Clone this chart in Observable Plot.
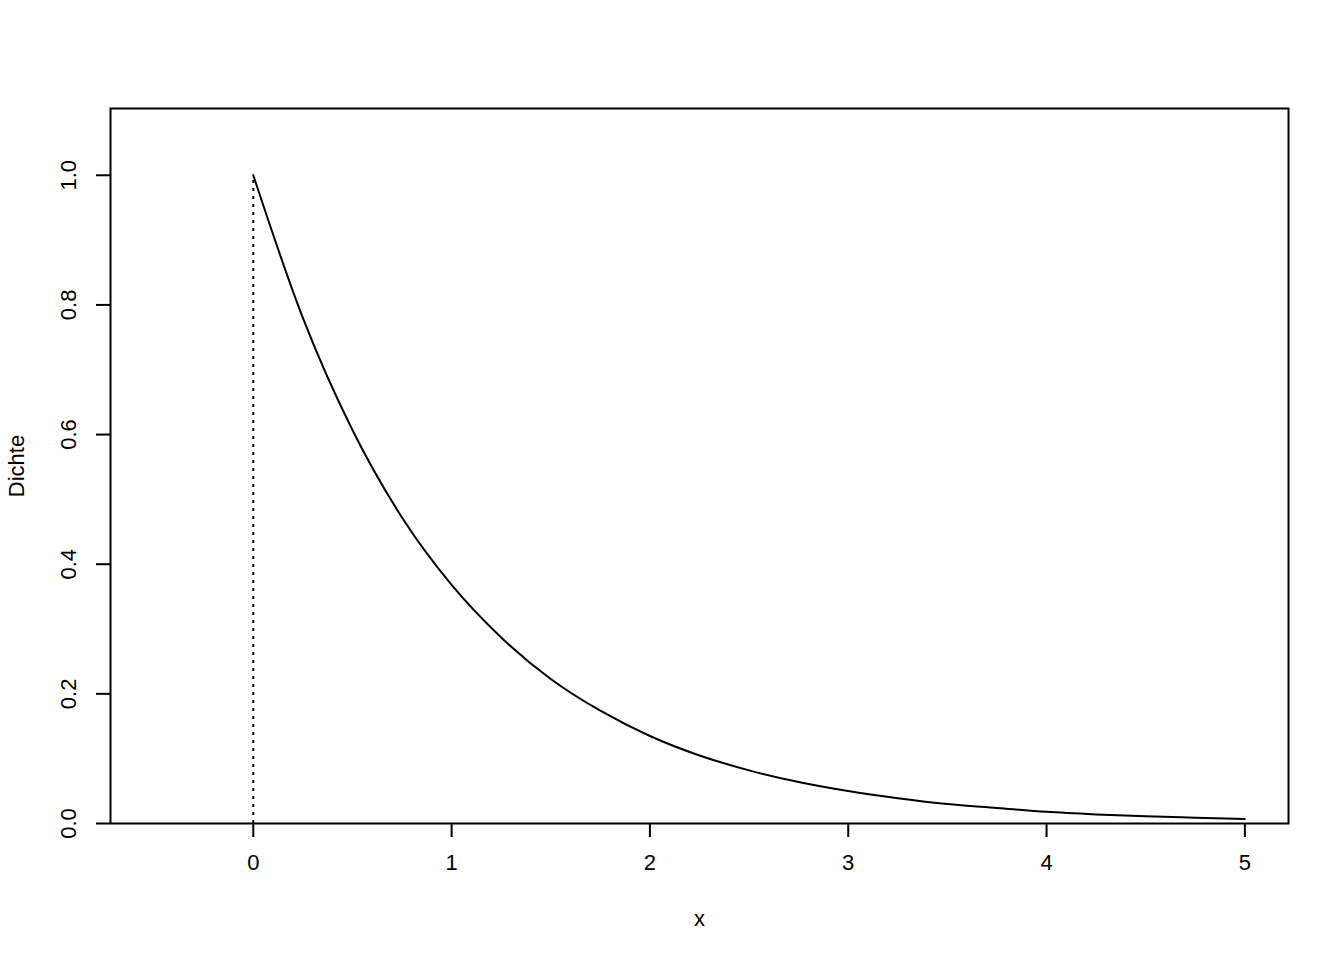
<!DOCTYPE html>
<html>
<head>
<meta charset="utf-8">
<script src="https://cdn.jsdelivr.net/npm/d3@7"></script>
<script src="https://cdn.jsdelivr.net/npm/@observablehq/plot@0.6"></script>
<style>
  html, body { margin: 0; padding: 0; background: #fff; }
</style>
</head>
<body>
<div id="chart"></div>
<script>
// Values
const xValues = [0, 0.25, 0.5, 0.75, 1, 1.25, 1.5, 1.75, 2, 2.25, 2.5, 2.75, 3, 3.25, 3.5, 3.75, 4, 4.25, 4.5, 4.75, 5];
const densityValues = [1.0, 0.78, 0.607, 0.472, 0.368, 0.287, 0.223, 0.174, 0.135, 0.105, 0.082, 0.064, 0.05, 0.039, 0.030, 0.024, 0.018, 0.014, 0.011, 0.009, 0.007];
const xTicks = [0, 1, 2, 3, 4, 5];
const yTicks = [0, 0.2, 0.4, 0.6, 0.8, 1.0];
const markerX = [0];
const markerTop = [1.0];
const xLabel = "x";
const yLabel = "Dichte";

const curve = xValues.map((x, i) => ({x, y: densityValues[i]}));
const marker = markerX.map((x, i) => ({x, y1: 0, y2: markerTop[i]}));

const chart = Plot.plot({
  width: 1344,
  height: 960,
  marginLeft: 110,
  marginRight: 56,
  marginTop: 108,
  marginBottom: 137,
  style: {fontFamily: "'Liberation Sans', Arial, Helvetica, sans-serif", fontSize: "22px", background: "#fff", color: "#000"},
  x: {domain: [-0.72, 5.22]},
  y: {domain: [0, 1.103]},
  marks: [
    Plot.ruleX(marker, {x: "x", y1: "y1", y2: "y2", stroke: "#000", strokeWidth: 2, strokeDasharray: "3,5"}),
    Plot.line(curve, {x: "x", y: "y", stroke: "#000", strokeWidth: 2, curve: "monotone-x"}),
    Plot.frame({stroke: "#000", strokeWidth: 2}),
    Plot.axisX({ticks: xTicks, tickSize: 14, tickPadding: 17, tickFormat: d3.format("d"), label: null, fontSize: 22, strokeWidth: 2}),
    Plot.axisY({ticks: yTicks, tickSize: 14, tickPadding: 21, tickFormat: d3.format(".1f"), tickRotate: -90, textAnchor: "middle", label: null, fontSize: 22, strokeWidth: 2}),
    Plot.text([xLabel], {text: d => d, frameAnchor: "bottom", dy: 95, lineAnchor: "middle", fontSize: 22}),
    Plot.text([yLabel], {text: d => d, frameAnchor: "left", dx: -94, rotate: -90, lineAnchor: "middle", textAnchor: "middle", fontSize: 22})
  ]
});
document.getElementById("chart").appendChild(chart);
</script>
</body>
</html>
